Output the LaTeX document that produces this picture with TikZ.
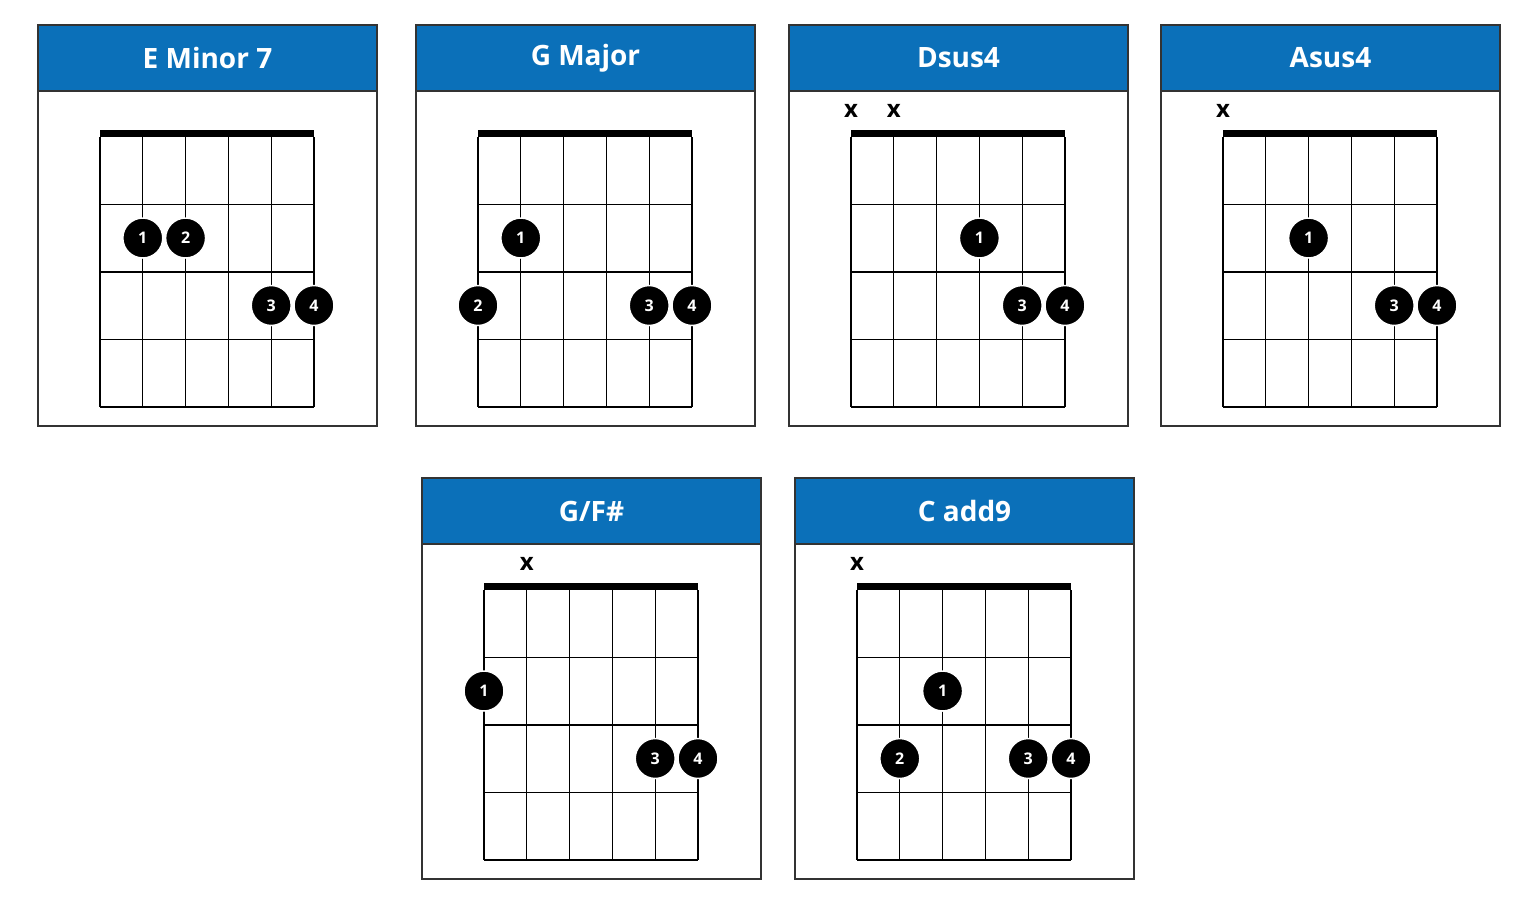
\documentclass[tikz,border=0pt]{standalone}
\usepackage{fontspec}
\setmainfont{Open Sans}
\definecolor{hdr}{HTML}{0B70B9}
\tikzset{
 card/.style={draw=black!80,line width=1.5pt,fill=white},
 hdrbox/.style={draw=black!80,line width=1.5pt,fill=hdr},
 title/.style={text=white,font=\fontsize{28}{30}\selectfont\bfseries},
 grid/.style={line width=1.3pt},
 nut/.style={line width=7pt},
 dot/.style={circle,fill=black,draw=white,line width=1.5pt,minimum size=40pt,inner sep=0pt,text=white,font=\fontsize{16}{16}\selectfont\bfseries},
 mute/.style={font=\fontsize{24}{24}\selectfont\bfseries}
}
% #1 name, #2 left, #3 top, #4 title, #5 dots (string/fret/label), #6 mutes
\newcommand{\chordcard}[6]{
 \begin{scope}[shift={(#2,#3)}]
  \draw[card] (0,0) rectangle (339,401);
  \draw[hdrbox] (0,0) rectangle (339,66);
  \node[title] (#1t) at (169.5,33) {#4};
  \foreach \i in {0,...,5} \draw[grid] (62+42.8*\i,112) -- (62+42.8*\i,382);
  \foreach \j in {1,...,4} \draw[grid] (62,112+67.5*\j) -- (276,112+67.5*\j);
  \draw[nut] (62,108.5) -- (276,108.5);
  \foreach \s/\f/\l in {#5} \node[dot] (#1d\l) at (62+42.8*\s,112+67.5*\f-34) {\l};
  \foreach \s in {#6} \node[mute] (#1m\s) at (62+42.8*\s,86) {x};
 \end{scope}}
\begin{document}
\begin{tikzpicture}[x=1pt,y=-1pt]
\useasboundingbox (0,0) rectangle (1536,903);
\chordcard{a}{38}{25}{E Minor 7}{1/2/1,2/2/2,4/3/3,5/3/4}{}
\chordcard{b}{416}{25}{G Major}{1/2/1,0/3/2,4/3/3,5/3/4}{}
\chordcard{c}{789}{25}{Dsus4}{3/2/1,4/3/3,5/3/4}{0,1}
\chordcard{d}{1161}{25}{Asus4}{2/2/1,4/3/3,5/3/4}{0}
\chordcard{e}{422}{478}{G/F\#}{0/2/1,4/3/3,5/3/4}{1}
\chordcard{f}{795}{478}{C add9}{2/2/1,1/3/2,4/3/3,5/3/4}{0}
\end{tikzpicture}
\end{document}
